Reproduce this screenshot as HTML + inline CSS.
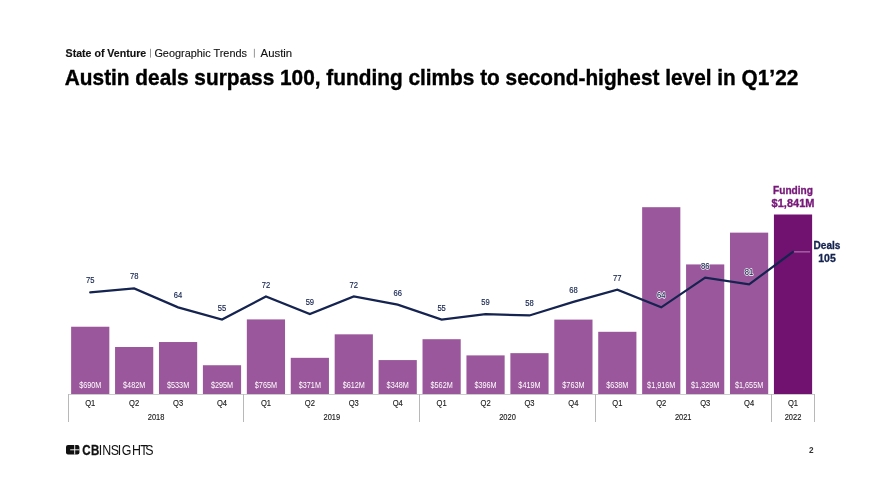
<!DOCTYPE html>
<html><head><meta charset="utf-8">
<style>
html,body{margin:0;padding:0;background:#fff;}
body{width:880px;height:495px;position:relative;overflow:hidden;font-family:"Liberation Sans",Arial,sans-serif;}
svg{position:absolute;left:0;top:0;font-family:"Liberation Sans",Arial,sans-serif;}
.cb{font-size:11.4px;font-weight:700;fill:#111;stroke:#111;stroke-width:0.15px;}
.cr{font-size:11.4px;fill:#111;stroke:#111;stroke-width:0.12px;}
.tt{font-size:22.4px;font-weight:700;fill:#000;stroke:#000;stroke-width:0.4px;}
.bl{font-size:8.6px;fill:#fff;text-anchor:middle;}
.ql{font-size:8.4px;fill:#222;text-anchor:middle;stroke:#222;stroke-width:0.15px;}
.dh{font-size:8.7px;fill:#fff;text-anchor:middle;stroke:#fff;stroke-width:1.5px;stroke-linejoin:round;}
.dl{font-size:8.7px;fill:#14234f;text-anchor:middle;stroke:#14234f;stroke-width:0.15px;}
.fl{font-size:10.8px;font-weight:700;fill:#78197a;stroke:#78197a;stroke-width:0.35px;text-anchor:middle;}
.dlb{font-size:10.5px;font-weight:700;fill:#14234f;stroke:#14234f;stroke-width:0.3px;text-anchor:middle;}
.ax{stroke:#cccccc;stroke-width:1;}
.axv{stroke:#b8b8b8;stroke-width:1;}
.lgb{font-size:13.2px;font-weight:700;fill:#111;}
.lgr{font-size:14.6px;fill:#111;}
.lgc{font-size:14.4px;font-weight:700;fill:#111;}
.pg{font-size:8.2px;fill:#333;text-anchor:middle;font-weight:700;}
</style></head><body>
<svg width="880" height="495" viewBox="0 0 880 495">
<text x="65.60" y="56.80" class="cb" textLength="80.60" lengthAdjust="spacingAndGlyphs">State of Venture</text>
<rect x="150" y="48.8" width="0.9" height="8.8" fill="#8a8a8a"/>
<text x="154.40" y="56.80" class="cr" textLength="92.60" lengthAdjust="spacingAndGlyphs">Geographic Trends</text>
<rect x="253.9" y="48.8" width="0.9" height="8.8" fill="#8a8a8a"/>
<text x="260.60" y="56.80" class="cr" textLength="31.60" lengthAdjust="spacingAndGlyphs">Austin</text>
<text x="64.80" y="85.10" class="tt" textLength="733.50" lengthAdjust="spacingAndGlyphs">Austin deals surpass 100, funding climbs to second-highest level in Q1’22</text>
<rect x="71.13" y="326.73" width="38.20" height="67.27" fill="#9b579b"/>
<rect x="115.06" y="347.00" width="38.20" height="47.00" fill="#9b579b"/>
<rect x="158.98" y="342.03" width="38.20" height="51.97" fill="#9b579b"/>
<rect x="202.90" y="365.24" width="38.20" height="28.76" fill="#9b579b"/>
<rect x="246.83" y="319.41" width="38.20" height="74.59" fill="#9b579b"/>
<rect x="290.75" y="357.83" width="38.20" height="36.17" fill="#9b579b"/>
<rect x="334.68" y="334.33" width="38.20" height="59.67" fill="#9b579b"/>
<rect x="378.60" y="360.07" width="38.20" height="33.93" fill="#9b579b"/>
<rect x="422.52" y="339.20" width="38.20" height="54.80" fill="#9b579b"/>
<rect x="466.45" y="355.39" width="38.20" height="38.61" fill="#9b579b"/>
<rect x="510.37" y="353.15" width="38.20" height="40.85" fill="#9b579b"/>
<rect x="554.30" y="319.61" width="38.20" height="74.39" fill="#9b579b"/>
<rect x="598.22" y="331.80" width="38.20" height="62.20" fill="#9b579b"/>
<rect x="642.14" y="207.19" width="38.20" height="186.81" fill="#9b579b"/>
<rect x="686.07" y="264.42" width="38.20" height="129.58" fill="#9b579b"/>
<rect x="729.99" y="232.64" width="38.20" height="161.36" fill="#9b579b"/>
<rect x="773.92" y="214.50" width="38.20" height="179.50" fill="#711270"/>
<text transform="translate(90.23 388.00) scale(0.845 1)" class="bl">$690M</text>
<text transform="translate(134.16 388.00) scale(0.845 1)" class="bl">$482M</text>
<text transform="translate(178.08 388.00) scale(0.845 1)" class="bl">$533M</text>
<text transform="translate(222.00 388.00) scale(0.845 1)" class="bl">$295M</text>
<text transform="translate(265.93 388.00) scale(0.845 1)" class="bl">$765M</text>
<text transform="translate(309.85 388.00) scale(0.845 1)" class="bl">$371M</text>
<text transform="translate(353.78 388.00) scale(0.845 1)" class="bl">$612M</text>
<text transform="translate(397.70 388.00) scale(0.845 1)" class="bl">$348M</text>
<text transform="translate(441.62 388.00) scale(0.845 1)" class="bl">$562M</text>
<text transform="translate(485.55 388.00) scale(0.845 1)" class="bl">$396M</text>
<text transform="translate(529.47 388.00) scale(0.845 1)" class="bl">$419M</text>
<text transform="translate(573.40 388.00) scale(0.845 1)" class="bl">$763M</text>
<text transform="translate(617.32 388.00) scale(0.845 1)" class="bl">$638M</text>
<text transform="translate(661.24 388.00) scale(0.845 1)" class="bl">$1,916M</text>
<text transform="translate(705.17 388.00) scale(0.845 1)" class="bl">$1,329M</text>
<text transform="translate(749.09 388.00) scale(0.845 1)" class="bl">$1,655M</text>
<line x1="68.27" y1="394.5" x2="814.978" y2="394.5" class="ax"/>
<line x1="68.50" y1="394.0" x2="68.50" y2="422" class="axv"/>
<line x1="243.50" y1="394.0" x2="243.50" y2="422" class="axv"/>
<line x1="419.50" y1="394.0" x2="419.50" y2="422" class="axv"/>
<line x1="595.50" y1="394.0" x2="595.50" y2="422" class="axv"/>
<line x1="771.50" y1="394.0" x2="771.50" y2="422" class="axv"/>
<line x1="814.50" y1="394.0" x2="814.50" y2="422" class="axv"/>
<text transform="translate(90.23 405.90) scale(0.9 1)" class="ql">Q1</text>
<text transform="translate(134.16 405.90) scale(0.9 1)" class="ql">Q2</text>
<text transform="translate(178.08 405.90) scale(0.9 1)" class="ql">Q3</text>
<text transform="translate(222.00 405.90) scale(0.9 1)" class="ql">Q4</text>
<text transform="translate(265.93 405.90) scale(0.9 1)" class="ql">Q1</text>
<text transform="translate(309.85 405.90) scale(0.9 1)" class="ql">Q2</text>
<text transform="translate(353.78 405.90) scale(0.9 1)" class="ql">Q3</text>
<text transform="translate(397.70 405.90) scale(0.9 1)" class="ql">Q4</text>
<text transform="translate(441.62 405.90) scale(0.9 1)" class="ql">Q1</text>
<text transform="translate(485.55 405.90) scale(0.9 1)" class="ql">Q2</text>
<text transform="translate(529.47 405.90) scale(0.9 1)" class="ql">Q3</text>
<text transform="translate(573.40 405.90) scale(0.9 1)" class="ql">Q4</text>
<text transform="translate(617.32 405.90) scale(0.9 1)" class="ql">Q1</text>
<text transform="translate(661.24 405.90) scale(0.9 1)" class="ql">Q2</text>
<text transform="translate(705.17 405.90) scale(0.9 1)" class="ql">Q3</text>
<text transform="translate(749.09 405.90) scale(0.9 1)" class="ql">Q4</text>
<text transform="translate(793.02 405.90) scale(0.9 1)" class="ql">Q1</text>
<text transform="translate(156.12 419.90) scale(0.89 1)" class="ql">2018</text>
<text transform="translate(331.81 419.90) scale(0.89 1)" class="ql">2019</text>
<text transform="translate(507.51 419.90) scale(0.89 1)" class="ql">2020</text>
<text transform="translate(683.21 419.90) scale(0.89 1)" class="ql">2021</text>
<text transform="translate(793.02 419.90) scale(0.89 1)" class="ql">2022</text>
<line x1="793.02" y1="251.83" x2="810.1" y2="251.83" stroke="#a466a4" stroke-width="1.4"/>
<polyline points="90.23,292.45 134.16,288.39 178.08,307.34 222.00,319.53 265.93,296.51 309.85,314.11 353.78,296.51 397.70,304.64 441.62,319.53 485.55,314.11 529.47,315.47 573.40,301.93 617.32,289.74 661.24,307.34 705.17,277.56 749.09,284.33 793.02,251.83" fill="none" stroke="#14234f" stroke-width="2.2" stroke-linejoin="miter" stroke-linecap="round"/>
<text transform="translate(90.23 283.45) scale(0.875 1)" class="dh">75</text>
<text transform="translate(134.16 279.39) scale(0.875 1)" class="dh">78</text>
<text transform="translate(178.08 298.34) scale(0.875 1)" class="dh">64</text>
<text transform="translate(222.00 310.53) scale(0.875 1)" class="dh">55</text>
<text transform="translate(265.93 287.51) scale(0.875 1)" class="dh">72</text>
<text transform="translate(309.85 305.11) scale(0.875 1)" class="dh">59</text>
<text transform="translate(353.78 287.51) scale(0.875 1)" class="dh">72</text>
<text transform="translate(397.70 295.64) scale(0.875 1)" class="dh">66</text>
<text transform="translate(441.62 310.53) scale(0.875 1)" class="dh">55</text>
<text transform="translate(485.55 305.11) scale(0.875 1)" class="dh">59</text>
<text transform="translate(529.47 306.47) scale(0.875 1)" class="dh">58</text>
<text transform="translate(573.40 292.93) scale(0.875 1)" class="dh">68</text>
<text transform="translate(617.32 280.74) scale(0.875 1)" class="dh">77</text>
<text transform="translate(661.24 298.34) scale(0.875 1)" class="dh">64</text>
<text transform="translate(705.17 268.56) scale(0.875 1)" class="dh">86</text>
<text transform="translate(749.09 275.33) scale(0.875 1)" class="dh">81</text>
<text transform="translate(90.23 283.45) scale(0.875 1)" class="dl">75</text>
<text transform="translate(134.16 279.39) scale(0.875 1)" class="dl">78</text>
<text transform="translate(178.08 298.34) scale(0.875 1)" class="dl">64</text>
<text transform="translate(222.00 310.53) scale(0.875 1)" class="dl">55</text>
<text transform="translate(265.93 287.51) scale(0.875 1)" class="dl">72</text>
<text transform="translate(309.85 305.11) scale(0.875 1)" class="dl">59</text>
<text transform="translate(353.78 287.51) scale(0.875 1)" class="dl">72</text>
<text transform="translate(397.70 295.64) scale(0.875 1)" class="dl">66</text>
<text transform="translate(441.62 310.53) scale(0.875 1)" class="dl">55</text>
<text transform="translate(485.55 305.11) scale(0.875 1)" class="dl">59</text>
<text transform="translate(529.47 306.47) scale(0.875 1)" class="dl">58</text>
<text transform="translate(573.40 292.93) scale(0.875 1)" class="dl">68</text>
<text transform="translate(617.32 280.74) scale(0.875 1)" class="dl">77</text>
<text transform="translate(661.24 298.34) scale(0.875 1)" class="dl">64</text>
<text transform="translate(705.17 268.56) scale(0.875 1)" class="dl">86</text>
<text transform="translate(749.09 275.33) scale(0.875 1)" class="dl">81</text>
<text transform="translate(793.02 194.00) scale(0.936 1)" class="fl">Funding</text>
<text transform="translate(793.02 207.40) scale(1.02 1)" class="fl">$1,841M</text>
<text transform="translate(827.00 248.80) scale(0.96 1)" class="dlb">Deals</text>
<text x="827.00" y="262.30" class="dlb">105</text>
<rect x="66" y="444.9" width="13.4" height="9.6" rx="2" fill="#111"/>
<line x1="70.2" y1="449.8" x2="79.4" y2="449.8" stroke="#fff" stroke-width="0.9"/>
<line x1="74.7" y1="444.9" x2="74.7" y2="454.5" stroke="#fff" stroke-width="0.9"/>
<text transform="translate(0 454.8) scale(0.8 1)" x="102.70 113.90" y="0" class="lgc" stroke="#111" stroke-width="0.3">CB</text>
<text transform="translate(0 454.7) scale(0.85 1)" x="116.09 120.25 130.19 138.56 143.32 155.43 164.96 171.02" y="0" class="lgr">INSIGHTS</text>
<text x="811.20" y="452.70" class="pg">2</text>
</svg>
</body></html>
